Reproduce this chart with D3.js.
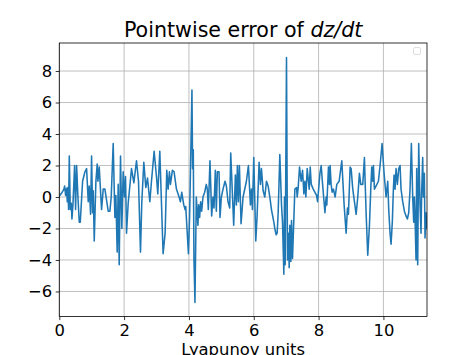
<!DOCTYPE html>
<html>
<head>
<meta charset="utf-8">
<script src="https://cdn.jsdelivr.net/npm/d3@7"></script>
<style>
    body { margin: 0; background: #fff; }
    svg text { font-family: "DejaVu Sans", sans-serif; fill: #000; }
</style>
</head>
<body>
<div id="chart"></div>
<script>
// values (Lyapunov units, error)
var tVals = [0.000, 0.072, 0.144, 0.164, 0.195, 0.226, 0.246, 0.267, 0.287, 0.308, 0.339, 0.370, 0.390, 0.421, 0.472, 0.503, 0.534, 0.575, 0.616, 0.647,
    0.719, 0.791, 0.842, 0.893, 0.924, 0.965, 0.996, 1.027, 1.047, 1.078, 1.129, 1.170, 1.191, 1.232, 1.304, 1.355, 1.407, 1.458, 1.509, 1.561,
    1.602, 1.663, 1.715, 1.745, 1.786, 1.817, 1.848, 1.889, 1.930, 1.971, 2.012, 2.043, 2.074, 2.125, 2.228, 2.300, 2.382, 2.444, 2.505, 2.546,
    2.608, 2.669, 2.721, 2.793, 2.844, 2.926, 2.998, 3.039, 3.101, 3.203, 3.265, 3.316, 3.357, 3.398, 3.429, 3.491, 3.542, 3.614, 3.696, 3.737,
    3.778, 3.840, 3.881, 3.901, 3.984, 4.021, 4.093, 4.113, 4.134, 4.155, 4.186, 4.227, 4.278, 4.299, 4.330, 4.361, 4.392, 4.433, 4.485, 4.536,
    4.567, 4.598, 4.649, 4.701, 4.742, 4.773, 4.814, 4.845, 4.876, 4.928, 4.959, 5.000, 5.052, 5.113, 5.155, 5.206, 5.258, 5.289, 5.381, 5.433,
    5.464, 5.495, 5.526, 5.557, 5.608, 5.670, 5.773, 5.835, 5.897, 5.928, 5.959, 6.000, 6.062, 6.103, 6.165, 6.206, 6.237, 6.289, 6.340, 6.392,
    6.443, 6.495, 6.546, 6.619, 6.649, 6.691, 6.722, 6.753, 6.804, 6.856, 6.887, 6.928, 6.948, 6.969, 7.010, 7.041, 7.072, 7.093, 7.113, 7.144,
    7.165, 7.196, 7.268, 7.320, 7.340, 7.371, 7.412, 7.464, 7.505, 7.546, 7.577, 7.608, 7.649, 7.711, 7.742, 7.773, 7.835, 7.938, 7.969, 8.041,
    8.080, 8.124, 8.196, 8.233, 8.254, 8.305, 8.336, 8.356, 8.387, 8.418, 8.459, 8.511, 8.562, 8.634, 8.716, 8.788, 8.850, 8.891, 8.921, 8.973,
    9.004, 9.055, 9.106, 9.158, 9.209, 9.260, 9.301, 9.363, 9.414, 9.466, 9.517, 9.569, 9.610, 9.640, 9.671, 9.692, 9.723, 9.774, 9.846, 9.897,
    9.959, 10.021, 10.082, 10.134, 10.164, 10.205, 10.236, 10.277, 10.308, 10.329, 10.360, 10.390, 10.431, 10.473, 10.514, 10.544, 10.596, 10.647, 10.698, 10.740,
    10.781, 10.822, 10.863, 10.904, 10.935, 10.955, 10.976, 11.007, 11.027, 11.058, 11.089, 11.130, 11.161, 11.181, 11.212, 11.233, 11.263, 11.284, 11.315, 11.345];

var errVals = [0.05, 0.25, 0.5, 0.7, 0.1, 0.55, -0.3, 0.6, -0.8, 2.6, -0.8, -0.4, -1.4, -0.5, 2.0, -0.8, 2.0, 0.0, -1.6, -1.6,
    1.0, 1.6, 1.8, -0.3, 0.7, -1.1, 2.6, -1.0, 0.4, -2.8, 1.0, 2.1, 1.0, 1.9, -0.8, 0.5, 0.5, -0.2, -0.9, -0.9,
    0.0, 3.4, -1.3, 0.1, -3.5, 0.8, -4.3, 2.6, -2.0, 1.6, 0.0, 1.3, -2.3, -0.4, 1.8, 0.9, 2.3, 1.0, -3.5, -0.3,
    2.2, 0.6, 1.2, -0.3, 1.0, 2.9, 1.3, 0.2, 2.9, -3.6, -2.3, 1.7, 0.5, 1.6, 0.8, 1.7, 1.6, 0.5, 0.0, -0.3,
    0.3, -0.5, -0.8, -0.6, -3.6, -1.2, 6.8, 1.8, 3.0, -4.0, -6.7, 0.0, -1.8, -0.5, -1.3, -0.3, -0.9, 0.0, 0.3, 0.8,
    0.5, -0.8, 2.3, -1.2, 0.0, -0.7, 1.7, -0.9, 1.6, 1.6, -1.3, 0.0, 0.5, 1.0, 0.7, -0.3, -0.7, 2.8, -1.8, 1.4,
    -0.5, 2.0, -0.3, 2.0, -1.7, 0.0, 1.0, 2.0, -0.5, 0.5, -0.8, 2.5, -2.8, -1.2, 2.2, 0.8, 1.8, 0.4, 0.0, 1.0,
    0.7, 0.0, -0.8, -1.6, -2.0, -2.4, -2.3, -1.0, 2.7, -0.5, -1.6, -4.9, 0.0, -4.3, 8.85, -4.0, -2.3, -4.5, -1.8, -4.1,
    -1.5, -3.9, 0.5, 0.6, 0.0, 0.6, 1.9, 1.0, 1.7, 0.2, 1.0, 0.0, 1.8, 0.5, 1.9, 0.8, 0.5, 0.1, -0.3, 1.5,
    2.0, 0.8, -1.0, 0.0, -0.5, 1.9, 0.8, 2.0, 0.8, 0.3, 0.5, 0.0, 0.8, 1.0, 2.3, -0.5, -2.3, -0.7, -1.1, 1.9,
    1.8, 0.5, -0.3, -1.1, 0.0, 1.5, 0.8, 0.8, 2.5, -1.0, -3.7, -1.8, 0.5, 1.9, 1.0, 2.0, 0.5, 0.7, 1.0, 2.0,
    3.4, 1.5, 0.0, 1.0, -0.8, -2.3, -3.0, -1.5, 0.5, 1.4, 0.5, 1.8, 0.8, 1.8, 2.0, 0.5, -0.3, -0.9, -1.2, -1.4,
    -1.0, 0.5, 3.4, 0.0, -1.6, 0.0, -1.3, -4.0, 1.8, -4.3, 3.4, -0.5, -2.3, 0.3, 2.5, 0.0, 1.5, -2.6, -1.0, -2.0];

var xTicks = [0, 2, 4, 6, 8, 10];
var yTicks = [-6, -4, -2, 0, 2, 4, 6, 8];
var xDomain = [0, 11.345];
var yDomain = [-7.59, 9.78];

var W = 474, H = 355;
var margin = {left: 59.3, right: 47, top: 43, bottom: 38.5};
var tickFont = 16.4;

var svg = d3.select('#chart').append('svg').attr('width', W).attr('height', H);

var x = d3.scaleLinear().domain(xDomain).range([margin.left, W - margin.right]);
var y = d3.scaleLinear().domain(yDomain).range([H - margin.bottom, margin.top]);

// grid
svg.append('g').selectAll('line.vgrid').data(xTicks).enter().append('line').attr('class', 'vgrid')
    .attr('x1', function(d) { return x(d); }).attr('x2', function(d) { return x(d); })
    .attr('y1', y.range()[0]).attr('y2', y.range()[1])
    .attr('stroke', '#b0b0b0').attr('stroke-width', 0.8);
svg.append('g').selectAll('line.hgrid').data(yTicks).enter().append('line').attr('class', 'hgrid')
    .attr('y1', function(d) { return y(d); }).attr('y2', function(d) { return y(d); })
    .attr('x1', x.range()[0]).attr('x2', x.range()[1])
    .attr('stroke', '#b0b0b0').attr('stroke-width', 0.8);

// the error curve
var pts = d3.zip(tVals, errVals);
var line = d3.line().x(function(p) { return x(p[0]); }).y(function(p) { return y(p[1]); });
svg.append('clipPath').attr('id', 'clip').append('rect')
    .attr('x', x.range()[0]).attr('y', y.range()[1])
    .attr('width', x.range()[1] - x.range()[0]).attr('height', y.range()[0] - y.range()[1]);
svg.append('path').datum(pts).attr('d', line).attr('clip-path', 'url(#clip)')
    .attr('fill', 'none').attr('stroke', '#1f77b4').attr('stroke-width', 1.55)
    .attr('stroke-linejoin', 'round').attr('stroke-linecap', 'square');

// axes
var fmt = d3.format('d');
var xAxis = svg.append('g').attr('transform', 'translate(0,' + y.range()[0] + ')')
    .call(d3.axisBottom(x).tickValues(xTicks).tickFormat(fmt).tickSize(3.6).tickPadding(3.6));
var yAxis = svg.append('g').attr('transform', 'translate(' + x.range()[0] + ',0)')
    .call(d3.axisLeft(y).tickValues(yTicks).tickFormat(fmt).tickSize(3.6).tickPadding(3.6));
[xAxis, yAxis].forEach(function(a) {
    a.select('.domain').remove();
    a.selectAll('line').attr('stroke', '#000').attr('stroke-width', 0.8);
    a.selectAll('text').attr('font-family', '"DejaVu Sans", sans-serif').attr('font-size', tickFont).attr('fill', '#000');
});
xAxis.selectAll('text').attr('dy', '0.72em');

// frame
svg.append('rect').attr('x', x.range()[0]).attr('y', y.range()[1])
    .attr('width', x.range()[1] - x.range()[0]).attr('height', y.range()[0] - y.range()[1])
    .attr('fill', 'none').attr('stroke', '#000').attr('stroke-width', 0.8);

// empty legend box
svg.append('rect').attr('x', x.range()[1] - 13.5).attr('y', y.range()[1] + 4.5)
    .attr('width', 7).attr('height', 7).attr('rx', 1.5)
    .attr('fill', '#fff').attr('stroke', '#d5d5d5').attr('stroke-width', 0.8);

// title and label
var cx = (x.range()[0] + x.range()[1]) / 2;
var title = svg.append('text').attr('x', cx).attr('y', 36.7).attr('text-anchor', 'middle').attr('font-size', 20.6);
title.append('tspan').text('Pointwise error of ');
title.append('tspan').attr('font-style', 'italic').text('dz/dt');

svg.append('text').attr('x', cx).attr('y', 354.7).attr('text-anchor', 'middle').attr('font-size', tickFont)
    .text('Lyapunov units');
</script>
</body>
</html>
